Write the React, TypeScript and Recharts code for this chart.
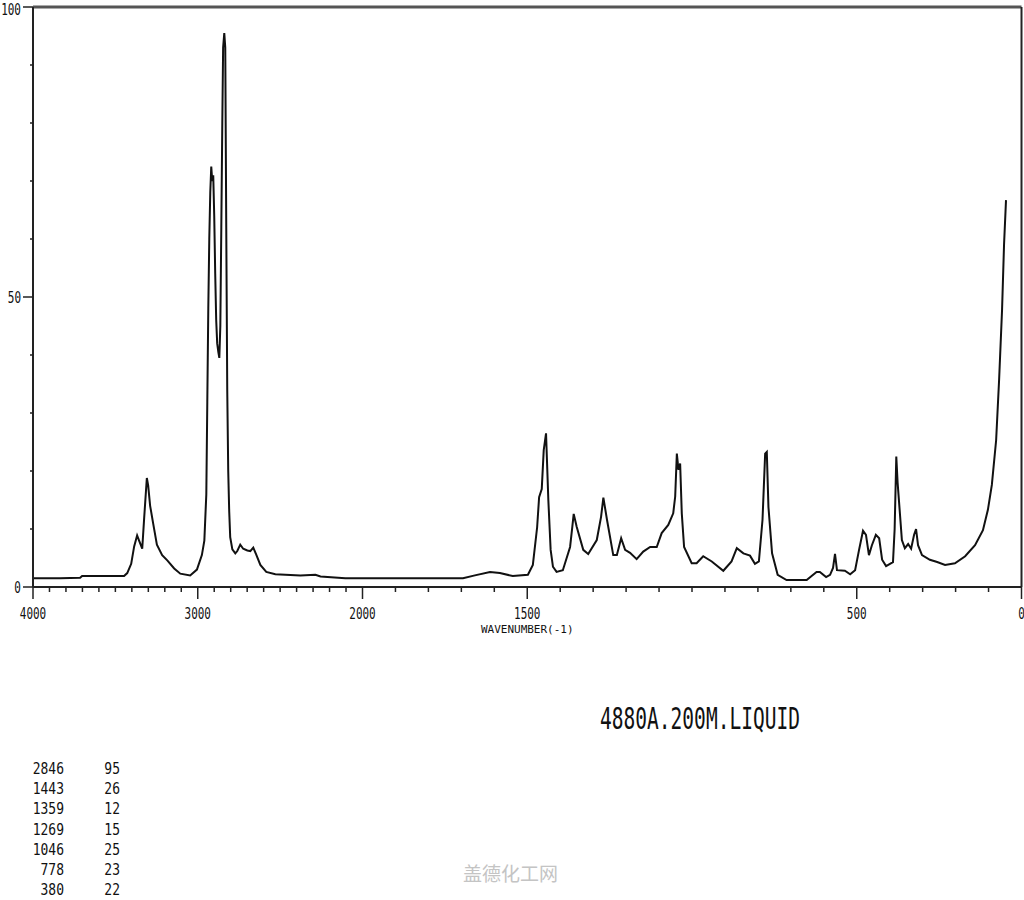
import React from 'react';
import { LineChart, Line, XAxis, YAxis, ReferenceLine } from 'recharts';

// Raman spectrum (wavenumber in cm-1, relative intensity)
const wavenumbers = [
  4000, 3836, 3714, 3702, 3447, 3428, 3404, 3386, 3368, 3356, 3337, 3325, 3309, 3301,
  3289, 3271, 3248, 3216, 3185, 3143, 3106, 3046, 3005, 2975, 2960, 2948, 2942, 2936,
  2930, 2924, 2918, 2912, 2906, 2900, 2894, 2888, 2882, 2875, 2869, 2863, 2857, 2851,
  2846, 2839, 2833, 2827, 2821, 2815, 2809, 2803, 2790, 2772, 2760, 2742, 2724, 2699,
  2681, 2663, 2645, 2620, 2584, 2529, 2377, 2286, 2255, 2104, 2000, 1704, 1695, 1659,
  1613, 1583, 1544, 1498, 1483, 1470, 1464, 1456, 1450, 1443, 1436, 1429, 1422, 1411,
  1392, 1370, 1363, 1359, 1350, 1330, 1315, 1289, 1276, 1269, 1258, 1239, 1228, 1215,
  1203, 1188, 1168, 1148, 1127, 1107, 1092, 1072, 1057, 1051, 1046, 1041, 1036, 1031,
  1024, 1001, 986, 966, 940, 905, 880, 864, 844, 824, 809, 797, 786, 778, 773, 768,
  757, 740, 713, 652, 622, 612, 593, 581, 572, 566, 560, 536, 520, 505, 493, 481,
  472, 463, 454, 442, 432, 423, 411, 390, 385, 380, 376, 363, 354, 344, 335, 326,
  320, 314, 302, 278, 256, 232, 202, 171, 141, 117, 102, 90, 77, 68, 59, 53, 47,
];
const intensities = [
  1.5, 1.5, 1.6, 1.9, 1.9, 2.4, 4, 7, 8.9, 8, 6.6, 12, 18.8, 17.5,
  14, 11, 7.3, 5.5, 4.6, 3.2, 2.3, 2.0, 3.0, 5.5, 8, 16, 32, 48,
  60, 68, 72.5, 70, 71, 64, 54, 46, 42, 40.5, 39.5, 45, 62, 80,
  93, 95.5, 93, 62, 34, 20, 13, 8.6, 6.5, 5.8, 6.2, 7.3, 6.6, 6.3,
  6.2, 6.8, 5.6, 3.8, 2.6, 2.2, 2.0, 2.1, 1.8, 1.5, 1.5, 1.5, 1.5, 2.0,
  2.6, 2.4, 1.9, 2.1, 3.8, 10.3, 15.5, 16.9, 23.6, 26.5, 15, 6.4, 3.5, 2.6,
  2.9, 6.9, 10.5, 12.6, 10.4, 6.4, 5.7, 8.1, 12.1, 15.4, 11.6, 5.5, 5.5, 8.4,
  6.4, 5.9, 4.8, 6.1, 6.9, 6.9, 9.3, 10.7, 12.7, 15.6, 23, 20.2, 21.3, 12.7,
  6.9, 4.1, 4.1, 5.3, 4.4, 2.8, 4.4, 6.7, 5.8, 5.4, 4.0, 4.4, 11.6, 23, 23.3, 13.8,
  5.8, 2.1, 1.2, 1.2, 2.6, 2.6, 1.7, 2.1, 3.3, 5.7, 2.9, 2.8, 2.2, 2.9, 6.4, 9.7,
  9.0, 5.5, 7.2, 9.0, 8.4, 4.7, 3.6, 4.3, 10, 22.5, 18, 8.1, 6.7, 7.4, 6.6, 9,
  10, 7.2, 5.5, 4.7, 4.3, 3.8, 4.1, 5.3, 7.2, 9.8, 13.3, 17.6, 25.3, 35.7, 47.8, 59, 66.7,
];

const xLabelValues = [4000, 3000, 2000, 1500, 500, 0];
const yTickValues = [0, 10, 20, 30, 40, 50, 60, 70, 80, 90, 100];
const yLabelValues = [0, 50, 100];

const peakWavenumbers = ['2846', '1443', '1359', '1269', '1046', '778', '380'];
const peakHeights = ['95', '26', '12', '15', '25', '23', '22'];

const sampleLabel = '4880A.200M.LIQUID';
const watermark = '盖德化工网';

// the chart is drawn at half scale above 2000 cm-1
const toAxis = (w: number) => (w > 2000 ? 2000 + (w - 2000) / 2 : w);
const fromAxis = (u: number) => (u > 2000 ? 2000 + (u - 2000) * 2 : u);

const data = wavenumbers.map((w, i) => ({ u: toAxis(w), intensity: intensities[i] }));

const xTicks: number[] = [];
for (let w = 4000; w >= 0; w -= 100) xTicks.push(toAxis(w));

const mono = 'DejaVu Sans Mono';

const XTick = (props: any) => {
  const { x, y, payload } = props;
  const wn = Math.round(fromAxis(payload.value));
  const major = xLabelValues.includes(wn);
  return (
    <g>
      <line x1={x} y1={y} x2={x} y2={y + (major ? 12 : 5)} stroke="#222" strokeWidth={1.5} />
      {major && (
        <text
          transform={`translate(${x},${y + 32}) scale(1,1.45)`}
          textAnchor="middle"
          fontFamily={mono}
          fontSize={11}
          fill="#111"
        >
          {wn}
        </text>
      )}
    </g>
  );
};

const YTick = (props: any) => {
  const { x, y, payload } = props;
  const major = yLabelValues.includes(payload.value);
  // keep the top label inside the page
  const dy = payload.value === 100 ? 8 : 6;
  return (
    <g>
      <line x1={x - (major ? 10 : 3)} y1={y} x2={x} y2={y} stroke="#222" strokeWidth={1.5} />
      {major && (
        <text
          transform={`translate(${x - 12},${y + dy}) scale(1,1.4)`}
          textAnchor="end"
          fontFamily={mono}
          fontSize={11}
          fill="#111"
        >
          {payload.value}
        </text>
      )}
    </g>
  );
};

export default function App() {
  return (
    <div style={{ position: 'absolute', left: 0, top: 0, width: 1024, height: 900, background: '#fff' }}>
      <LineChart
        width={1024}
        height={650}
        data={data}
        margin={{ top: 7, right: 2.5, left: 0, bottom: 13 }}
      >
        <XAxis
          dataKey="u"
          type="number"
          domain={[0, 3000]}
          reversed
          ticks={xTicks}
          interval={0}
          tick={XTick}
          tickLine={false}
          tickSize={0}
          tickMargin={0}
          height={50}
          axisLine={{ stroke: '#222', strokeWidth: 2 }}
          label={{
            value: 'WAVENUMBER(-1)',
            position: 'insideBottom',
            offset: 4,
            fontSize: 11,
            fontFamily: mono,
            fill: '#111',
          }}
        />
        <YAxis
          type="number"
          domain={[0, 100]}
          ticks={yTickValues}
          interval={0}
          tick={YTick}
          tickLine={false}
          tickSize={0}
          tickMargin={0}
          width={33}
          axisLine={{ stroke: '#222', strokeWidth: 2 }}
        />
        <ReferenceLine y={100} stroke="#555" strokeWidth={3} />
        <ReferenceLine x={0} stroke="#222" strokeWidth={2} />
        <Line
          type="linear"
          dataKey="intensity"
          stroke="#111"
          strokeWidth={2}
          dot={false}
          isAnimationActive={false}
        />
      </LineChart>
      <svg width={1024} height={250} style={{ position: 'absolute', left: 0, top: 650 }}>
        <text
          transform="translate(600,79) scale(1,1.55)"
          fontFamily={mono}
          fontSize={19.5}
          textLength={200}
          lengthAdjust="spacingAndGlyphs"
          fill="#111"
        >
          {sampleLabel}
        </text>
        {peakWavenumbers.map((w, i) => (
          <g key={w}>
            <text
              transform={`translate(64,${124 + i * 20.2}) scale(1,1.25)`}
              textAnchor="end"
              fontFamily={mono}
              fontSize={13}
              fill="#111"
            >
              {w}
            </text>
            <text
              transform={`translate(120,${124 + i * 20.2}) scale(1,1.25)`}
              textAnchor="end"
              fontFamily={mono}
              fontSize={13}
              fill="#111"
            >
              {peakHeights[i]}
            </text>
          </g>
        ))}
        <text x={463} y={231} fontFamily="Noto Sans CJK SC" fontSize={19} fill="#c4c4c4">
          {watermark}
        </text>
      </svg>
    </div>
  );
}
